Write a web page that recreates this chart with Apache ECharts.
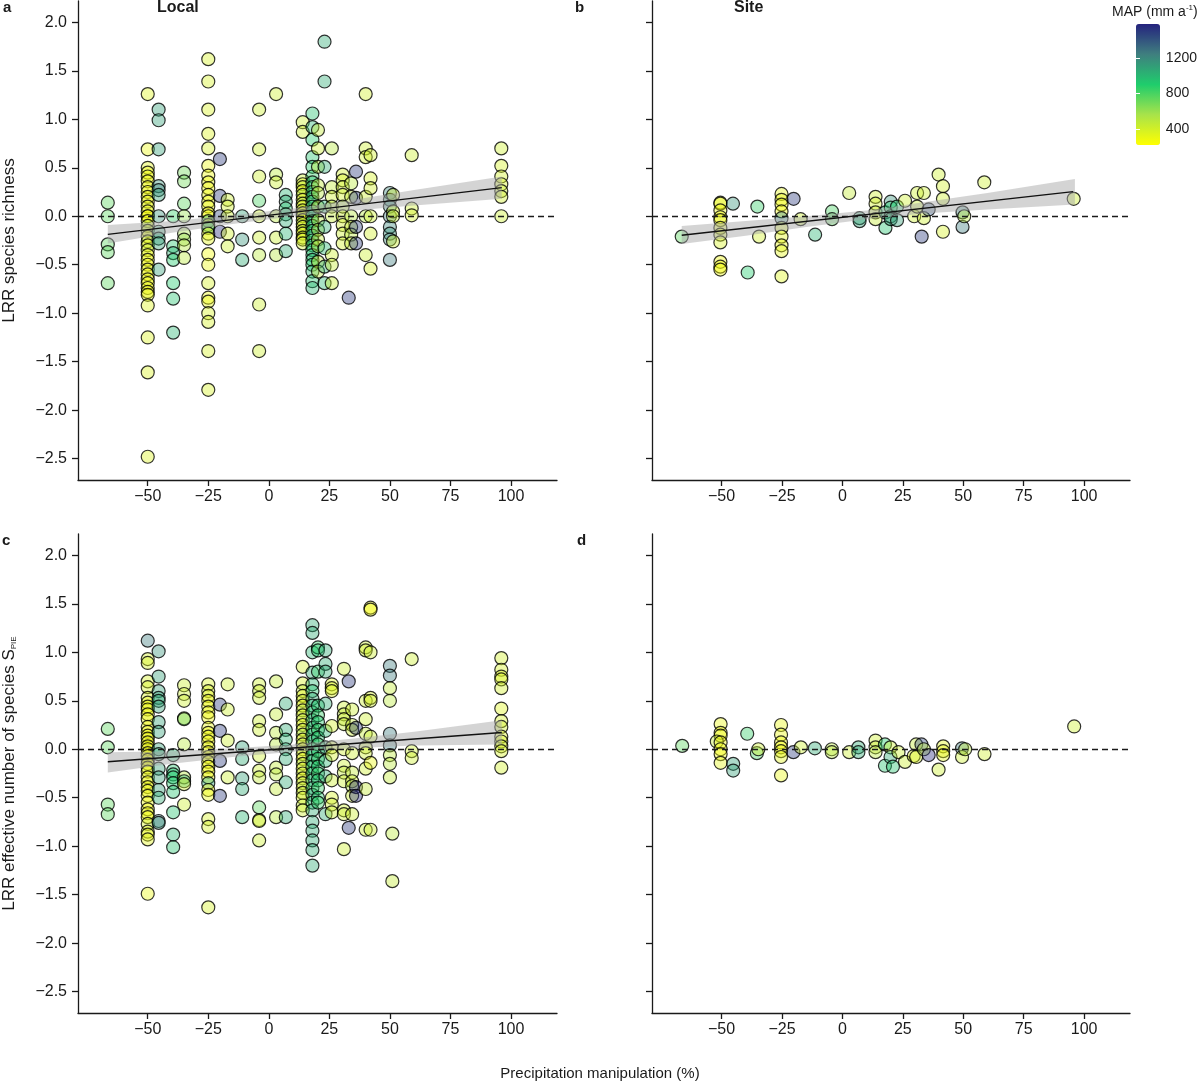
<!DOCTYPE html>
<html>
<head>
<meta charset="utf-8">
<script src="https://cdn.jsdelivr.net/npm/echarts@6/dist/echarts.min.js"></script>
<style>
  html, body { margin: 0; padding: 0; background: #fff; }
  #chart { width: 1200px; height: 1085px; }
</style>
</head>
<body>
<div id="chart"></div>
<script>
// [precipitation manipulation %, LRR, MAP mm/a]
var richLocal = [
  [-66.5,0.14,750],[-66.5,0.0,750],[-66.5,-0.29,750],[-66.5,-0.37,750],[-66.5,-0.69,750],
  [-50,1.26,350],[-50,0.69,300],[-50,0.5,330],[-50,0.45,280],[-50,0.41,300],[-50,0.36,260],[-50,0.3,300],[-50,0.25,270],
  [-50,0.2,300],[-50,0.15,280],[-50,0.1,320],[-50,0.05,300],[-50,0.0,250],[-50,0.0,260],[-50,-0.05,300],[-50,-0.1,480],
  [-50,-0.15,420],[-50,-0.21,300],[-50,-0.26,450],[-50,-0.3,300],[-50,-0.35,420],[-50,-0.4,280],[-50,-0.45,300],
  [-50,-0.5,270],[-50,-0.55,300],[-50,-0.6,260],[-50,-0.65,300],[-50,-0.69,280],[-50,-0.74,300],[-50,-0.78,270],
  [-50,-0.81,330],[-50,-0.92,350],[-50,-1.25,360],[-50,-1.61,370],[-50,-2.48,360],
  [-45.5,1.1,1100],[-45.5,0.99,1100],[-45.5,0.69,1100],[-45.5,0.31,1150],[-45.5,0.27,1200],[-45.5,0.22,1100],
  [-45.5,0.0,1150],[-45.5,-0.16,1100],[-45.5,-0.23,1100],[-45.5,-0.28,1100],[-45.5,-0.55,1100],
  [-39.5,0.0,850],[-39.5,-0.31,950],[-39.5,-0.38,1000],[-39.5,-0.45,900],[-39.5,-0.69,900],[-39.5,-0.85,950],[-39.5,-1.2,1000],
  [-35,0.45,700],[-35,0.36,700],[-35,0.13,750],[-35,0.0,600],[-35,-0.18,550],[-35,-0.24,600],[-35,-0.3,500],[-35,-0.43,480],
  [-25,1.62,380],[-25,1.39,380],[-25,1.1,370],[-25,0.85,360],[-25,0.7,380],[-25,0.52,300],[-25,0.42,280],[-25,0.35,300],
  [-25,0.29,270],[-25,0.22,300],[-25,0.15,280],[-25,0.1,300],[-25,0.03,250],[-25,0.0,260],[-25,-0.05,1000],[-25,-0.09,300],
  [-25,-0.12,950],[-25,-0.18,300],[-25,-0.23,320],[-25,-0.39,260],[-25,-0.5,300],[-25,-0.69,380],[-25,-0.84,280],
  [-25,-0.88,300],[-25,-1.0,380],[-25,-1.09,380],[-25,-1.39,380],[-25,-1.79,380],
  [-20.2,0.59,1500],[-20.2,0.21,1500],[-20.2,0.0,1450],[-20.2,-0.16,1550],
  [-17,0.17,420],[-17,0.1,400],[-17,0.0,420],[-17,-0.18,400],[-17,-0.31,420],
  [-11,0.0,1100],[-11,-0.24,1150],[-11,-0.45,1050],
  [-4,1.1,420],[-4,0.69,420],[-4,0.41,420],[-4,0.16,800],[-4,0.0,420],[-4,-0.22,420],[-4,-0.4,480],[-4,-0.91,420],[-4,-1.39,420],
  [3,1.26,420],[3,0.43,480],[3,0.35,420],[3,0.0,480],[3,-0.22,430],[3,-0.4,500],
  [7,0.22,1000],[7,0.15,1050],[7,0.08,950],[7,0.02,1000],[7,-0.05,1050],[7,-0.18,1000],[7,-0.36,1050],
  [14,0.97,420],[14,0.87,420],[14,0.37,420],[14,0.33,330],[14,0.3,450],[14,0.26,300],[14,0.22,500],[14,0.17,300],
  [14,0.13,480],[14,0.1,320],[14,0.06,400],[14,0.03,300],[14,0.0,420],[14,-0.04,300],[14,-0.08,500],[14,-0.11,330],
  [14,-0.15,450],[14,-0.18,300],[14,-0.22,420],[14,-0.24,320],[14,-0.28,400],
  [18,1.06,950],[18,0.92,1000],[18,0.79,900],[18,0.61,950],[18,0.51,900],[18,0.41,850],[18,0.35,950],[18,0.3,880],
  [18,0.25,1000],[18,0.2,900],[18,0.15,850],[18,0.1,950],[18,0.05,900],[18,0.0,1000],[18,-0.05,880],[18,-0.1,950],
  [18,-0.15,900],[18,-0.2,1000],[18,-0.25,850],[18,-0.3,950],[18,-0.35,900],[18,-0.4,1000],[18,-0.45,950],
  [18,-0.5,900],[18,-0.57,1000],[18,-0.67,950],[18,-0.74,1000],
  [20.3,0.89,450],[20.3,0.7,420],[20.3,0.51,480],[20.3,0.32,450],[20.3,0.24,500],[20.3,0.1,450],[20.3,-0.04,480],
  [20.3,-0.14,500],[20.3,-0.24,450],[20.3,-0.31,480],[20.3,-0.47,450],[20.3,-0.57,500],
  [23,1.8,1050],[23,1.39,1050],[23,0.51,1050],[23,0.1,1000],[23,-0.11,1050],[23,-0.33,1000],[23,-0.52,1050],[23,-0.69,1000],
  [26,0.7,500],[26,0.3,450],[26,0.2,420],[26,0.1,480],[26,0.0,450],[26,-0.4,420],[26,-0.5,450],[26,-0.69,430],
  [30.5,0.43,400],[30.5,0.37,380],[30.5,0.3,420],[30.5,0.22,400],[30.5,0.1,480],[30.5,0.0,420],[30.5,-0.09,400],
  [30.5,-0.18,420],[30.5,-0.28,400],
  [33,-0.84,1500],
  [34,0.34,480],[34,0.2,450],[34,0.0,500],[34,-0.11,450],[34,-0.19,480],[34,-0.28,450],
  [36,0.46,1500],[36,0.19,1500],[36,-0.11,1480],[36,-0.28,1500],
  [40,1.26,400],[40,0.7,420],[40,0.61,400],[40,0.2,420],[40,0.0,500],[40,-0.4,420],
  [42,0.63,400],[42,0.39,380],[42,0.29,400],[42,0.0,420],[42,-0.18,400],[42,-0.54,380],
  [50,0.24,1200],[50,0.17,1150],[50,0.1,1200],[50,0.0,1250],[50,-0.11,1200],[50,-0.18,1150],[50,-0.24,1200],[50,-0.45,1250],
  [51.3,0.22,420],[51.3,0.05,420],[51.3,0.0,450],[51.3,-0.26,420],
  [59,0.63,420],[59,0.08,420],[59,0.01,400],
  [96,0.7,420],[96,0.52,380],[96,0.41,400],[96,0.33,380],[96,0.26,420],[96,0.2,400],[96,0.0,420]
]

var richSite = [
  [-66.5,-0.21,750],
  [-50.5,0.14,330],[-50.5,0.13,300],[-50.5,0.06,280],[-50.5,-0.01,270],[-50.5,-0.04,300],[-50.5,-0.12,330],
  [-50.5,-0.19,370],[-50.5,-0.27,380],[-50.5,-0.47,270],[-50.5,-0.52,260],[-50.5,-0.55,270],
  [-45.3,0.13,1150],[-39.2,-0.58,900],[-35.2,0.1,850],[-34.5,-0.21,400],
  [-25.2,0.23,330],[-25.2,0.17,300],[-25.2,0.12,280],[-25.2,0.05,270],[-25.2,-0.02,1200],[-25.2,-0.12,380],
  [-25.2,-0.21,330],[-25.2,-0.3,300],[-25.2,-0.36,330],[-25.2,-0.62,350],
  [-20.2,0.18,1500],[-17.3,-0.03,420],[-11.3,-0.19,1000],[-4.3,0.05,800],[-4.3,-0.03,750],[2.8,0.24,450],
  [7.1,-0.02,1050],[7.1,-0.05,1100],
  [13.7,0.2,420],[13.7,0.13,400],[13.7,0.04,420],[13.7,-0.03,450],
  [17.8,0.04,900],[17.8,-0.12,950],
  [20,0.15,1150],[20,0.09,900],[20,0.0,1000],[20,-0.03,1100],
  [22.6,0.1,900],[22.6,-0.04,1100],
  [25.9,0.16,420],[29.7,0.0,420],[30.9,0.24,420],[30.9,0.1,450],[33.7,0.24,420],[33.7,-0.02,420],
  [35.7,0.07,1400],[32.8,-0.21,1500],
  [39.8,0.43,420],[41.6,0.31,400],[41.6,0.18,420],[41.6,-0.16,380],
  [49.7,0.04,1200],[49.7,-0.11,1250],[50.4,0.0,500],[58.7,0.35,420],[95.7,0.18,420]
]

var spieLocal = [
  [-66.5,0.21,750],[-66.5,0.02,750],[-66.5,-0.57,750],[-66.5,-0.67,750],
  [-50,1.12,1250],[-50,0.93,380],[-50,0.89,380],[-50,0.7,380],[-50,0.64,380],[-50,0.53,350],[-50,0.48,300],
  [-50,0.44,280],[-50,0.41,300],[-50,0.36,280],[-50,0.31,300],[-50,0.23,270],[-50,0.18,260],[-50,0.14,300],
  [-50,0.11,280],[-50,0.07,300],[-50,0.03,270],[-50,0.0,300],[-50,-0.04,280],[-50,-0.07,300],[-50,-0.11,270],
  [-50,-0.15,300],[-50,-0.19,280],[-50,-0.23,330],[-50,-0.29,300],[-50,-0.34,280],[-50,-0.39,300],[-50,-0.43,270],
  [-50,-0.48,300],[-50,-0.55,280],[-50,-0.62,260],[-50,-0.66,300],[-50,-0.7,280],[-50,-0.77,380],[-50,-0.85,350],
  [-50,-0.88,330],[-50,-0.93,330],[-50,-1.49,300],
  [-45.5,1.01,1150],[-45.5,0.75,1100],[-45.5,0.6,1100],[-45.5,0.53,1100],[-45.5,0.5,1050],[-45.5,0.44,1100],
  [-45.5,0.28,1100],[-45.5,0.18,1100],[-45.5,0.0,1100],[-45.5,-0.05,1050],[-45.5,-0.2,1100],[-45.5,-0.29,1100],
  [-45.5,-0.42,1100],[-45.5,-0.5,1050],[-45.5,-0.74,1250],[-45.5,-0.76,1150],
  [-39.5,-0.06,1000],[-39.5,-0.22,950],[-39.5,-0.26,900],[-39.5,-0.29,950],[-39.5,-0.35,900],[-39.5,-0.44,950],
  [-39.5,-0.65,950],[-39.5,-0.88,1000],[-39.5,-1.01,950],
  [-35,0.66,420],[-35,0.57,420],[-35,0.5,420],[-35,0.32,450],[-35,0.31,700],[-35,0.05,480],[-35,-0.29,500],
  [-35,-0.33,1000],[-35,-0.36,420],[-35,-0.57,420],
  [-25,0.67,380],[-25,0.6,380],[-25,0.55,330],[-25,0.5,300],[-25,0.44,280],[-25,0.38,300],[-25,0.33,270],[-25,0.22,300],
  [-25,0.17,280],[-25,0.13,300],[-25,0.08,260],[-25,0.02,300],[-25,-0.03,280],[-25,-0.08,330],[-25,-0.13,300],
  [-25,-0.18,280],[-25,-0.23,260],[-25,-0.29,300],[-25,-0.35,1050],[-25,-0.42,280],[-25,-0.47,300],[-25,-0.72,380],
  [-25,-0.8,380],[-25,-1.63,380],
  [-20.2,0.46,1500],[-20.2,0.19,1500],[-20.2,-0.12,1500],[-20.2,-0.48,1500],
  [-17,0.67,420],[-17,0.41,420],[-17,0.09,420],[-17,-0.29,420],
  [-11,0.02,1100],[-11,-0.1,1050],[-11,-0.3,1100],[-11,-0.41,1050],[-11,-0.7,1000],
  [-4,0.67,420],[-4,0.6,420],[-4,0.53,420],[-4,0.29,420],[-4,0.2,420],[-4,-0.07,420],[-4,-0.22,420],[-4,-0.29,450],
  [-4,-0.6,750],[-4,-0.73,420],[-4,-0.74,420],[-4,-0.94,420],
  [3,0.7,450],[3,0.36,450],[3,0.17,480],[3,0.05,500],[3,-0.19,450],[3,-0.26,480],[3,-0.41,450],[3,-0.7,480],
  [7,0.47,1050],[7,0.2,1050],[7,0.1,1000],[7,0.0,1050],[7,-0.1,1050],[7,-0.34,1050],[7,-0.7,1050],
  [14,0.85,400],[14,0.68,380],[14,0.6,450],[14,0.55,300],[14,0.5,420],[14,0.45,300],[14,0.4,480],[14,0.35,320],
  [14,0.3,450],[14,0.25,300],[14,0.2,420],[14,0.15,500],[14,0.1,300],[14,0.05,450],[14,0.0,320],[14,-0.05,420],
  [14,-0.1,300],[14,-0.15,480],[14,-0.2,320],[14,-0.25,420],[14,-0.3,300],[14,-0.35,450],[14,-0.4,400],
  [14,-0.45,420],[14,-0.5,380],[14,-0.58,420],[14,-0.63,420],
  [18,1.28,1050],[18,1.2,1050],[18,1.0,1000],[18,0.79,1050],[18,0.67,1000],[18,0.6,950],[18,0.52,1050],[18,0.45,1000],
  [18,0.38,950],[18,0.3,1000],[18,0.22,900],[18,0.15,950],[18,0.08,1000],[18,0.0,900],[18,-0.06,950],[18,-0.12,1000],
  [18,-0.18,900],[18,-0.25,950],[18,-0.32,1000],[18,-0.4,950],[18,-0.47,1000],[18,-0.55,950],[18,-0.63,1050],
  [18,-0.75,1050],[18,-0.84,1050],[18,-0.94,1050],[18,-1.04,1050],[18,-1.2,1050],
  [20.3,1.05,850],[20.3,1.02,900],[20.3,0.8,850],[20.3,0.45,900],[20.3,0.35,850],[20.3,0.28,900],[20.3,0.2,850],
  [20.3,0.12,900],[20.3,0.05,850],[20.3,-0.02,900],[20.3,-0.1,850],[20.3,-0.18,900],[20.3,-0.25,850],[20.3,-0.32,900],
  [20.3,-0.4,850],[20.3,-0.5,900],[20.3,-0.55,850],
  [23.4,1.02,1050],[23.4,0.88,1050],[23.4,0.8,1050],[23.4,0.47,1050],[23.4,0.19,1000],[23.4,0.02,1050],
  [23.4,-0.12,1000],[23.4,-0.28,1050],[23.4,-0.67,1050],
  [26,0.67,350],[26,0.63,380],[26,0.6,350],[26,0.24,400],[26,0.02,380],[26,-0.06,400],[26,-0.32,420],[26,-0.5,380],
  [26,-0.57,400],[26,-0.65,420],
  [31,0.83,420],[31,0.43,420],[31,0.36,450],[31,0.31,420],[31,0.26,450],[31,0.0,420],[31,-0.17,420],[31,-0.24,450],
  [31,-0.33,420],[31,-0.63,420],[31,-0.67,420],[31,-1.03,420],
  [33,0.7,1500],[33,-0.81,1500],
  [34.4,0.41,420],[34.4,0.25,450],[34.4,0.2,420],[34.4,-0.04,420],[34.4,-0.24,450],[34.4,-0.33,420],[34.4,-0.38,480],
  [34.4,-0.48,420],[34.4,-0.67,420],
  [36,0.22,1500],[36,-0.39,1580],[36,-0.48,1550],
  [40,1.05,420],[40,1.02,400],[40,0.5,420],[40,0.31,420],[40,0.16,450],[40,0.02,420],[40,-0.04,420],[40,-0.2,420],
  [40,-0.41,450],[40,-0.83,420],
  [42,1.46,260],[42,1.44,270],[42,1.0,420],[42,0.53,380],[42,0.5,400],[42,0.13,420],[42,-0.14,300],[42,-0.83,420],
  [50,0.86,1250],[50,0.76,1250],[50,0.63,450],[50,0.5,480],[50,0.16,1250],[50,0.04,1250],[50,-0.06,480],
  [50,-0.15,480],[50,-0.29,450],
  [51,-0.87,480],[51,-1.36,450],
  [59,0.93,420],[59,-0.02,420],[59,-0.09,420],
  [96,0.94,400],[96,0.82,380],[96,0.75,350],[96,0.72,380],[96,0.63,400],[96,0.42,350],[96,0.29,380],[96,0.23,400],
  [96,0.13,350],[96,0.08,380],[96,0.03,400],[96,-0.02,380],[96,-0.19,400]
]

var spieSite = [
  [-66.3,0.035,750],
  [-50.4,0.26,300],[-50.4,0.17,280],[-50.4,0.14,300],[-52,0.08,450],[-50.4,0.07,270],[-50.4,0.0,280],
  [-50.4,-0.05,260],[-50.4,-0.14,330],
  [-45.2,-0.15,1100],[-45.2,-0.22,1100],[-39.4,0.16,850],[-35.4,-0.04,800],[-34.8,0.0,420],
  [-25.4,0.25,300],[-25.4,0.15,300],[-25.4,0.07,280],[-25.4,0.02,260],[-25.4,-0.02,300],[-25.4,-0.08,330],[-25.4,-0.27,300],
  [-20.3,-0.03,1500],[-17.2,0.02,420],[-11.4,0.01,1050],[-4.4,0.0,480],[-4.4,-0.03,480],[2.8,-0.03,420],
  [6.6,0.02,1050],[6.6,-0.03,1050],
  [13.7,0.09,420],[13.7,0.02,450],[13.7,-0.03,480],
  [17.6,0.05,900],[17.6,-0.17,950],[19.9,0.02,420],[19.9,-0.08,1050],[20.9,-0.18,950],
  [23.2,-0.03,420],[25.9,-0.13,420],[29.5,-0.07,330],[30.5,0.05,450],[30.5,-0.08,380],
  [32.7,0.05,1450],[33.7,0.0,500],[35.7,-0.06,1550],[39.8,-0.21,420],
  [41.7,0.03,330],[41.7,-0.02,300],[41.7,-0.06,330],
  [49.5,0.01,1250],[49.5,-0.08,420],[50.8,0.0,480],[58.8,-0.05,420],[95.9,0.235,420]
]

// fitted lines and confidence bands
var fitX = [-66.5, -40, -15, 10, 35, 60, 96.2]
var richLocalLow = [-0.28, -0.17, -0.08, 0.0, 0.06, 0.11, 0.18]
var richLocalHigh = [-0.09, -0.05, 0.01, 0.08, 0.17, 0.27, 0.41]
var richLocalLine = [[-66.5, -0.186], [96.2, 0.295]]
var richSiteLow = [-0.285, -0.2, -0.11, -0.03, 0.03, 0.07, 0.12]
var richSiteHigh = [-0.1, -0.05, 0.0, 0.06, 0.15, 0.24, 0.385]
var richSiteLine = [[-66.5, -0.196], [95.5, 0.254]]
var spieLocalLow = [-0.24, -0.15, -0.08, -0.025, 0.01, 0.04, 0.05]
var spieLocalHigh = [-0.03, -0.02, 0.01, 0.05, 0.11, 0.18, 0.3]
var spieLocalLine = [[-66.5, -0.129], [96.2, 0.173]]

var xTicks = [-50, -25, 0, 25, 50, 75, 100]
var yTicks = [-2.5, -2.0, -1.5, -1.0, -0.5, 0.0, 0.5, 1.0, 1.5, 2.0]
var mapTicks = [400, 800, 1200]
var mapColors = ['#ffff00', '#a8e34a', '#1fcd6c', '#3f7f7f', '#25237e']

var FONT = '"Liberation Sans", Arial, sans-serif'
var INK = '#1a1a1a'

function minus(v, digits) {
  var s = digits ? Math.abs(v).toFixed(digits) : String(Math.abs(v))
  return v < 0 ? '\u2212' + s : s
}

var grids = [
  { left: 77, top: 1, width: 480, height: 479 },
  { left: 652, top: 1, width: 478, height: 479 },
  { left: 77, top: 534, width: 480, height: 479 },
  { left: 652, top: 534, width: 478, height: 479 },
  { left: 1136, top: 24, width: 24, height: 121 }
]

var xAxes = []
var yAxes = []
for (var i = 0; i < 4; i++) {
  xAxes.push({
    type: 'value', gridIndex: i, min: -78.8, max: 119,
    splitLine: { show: false },
    axisLine: { show: true, onZero: false, lineStyle: { color: INK, width: 1.3 } },
    axisTick: { show: true, length: 6, customValues: xTicks, lineStyle: { color: INK, width: 1.3 } },
    axisLabel: {
      customValues: xTicks, fontFamily: FONT, fontSize: 16, color: INK, margin: 9,
      formatter: function (v) { return minus(v) }
    }
  })
  yAxes.push({
    type: 'value', gridIndex: i, min: -2.72, max: 2.22,
    splitLine: { show: false },
    axisLine: { show: true, onZero: false, lineStyle: { color: INK, width: 1.3 } },
    axisTick: { show: true, length: 6, customValues: yTicks, lineStyle: { color: INK, width: 1.3 } },
    axisLabel: {
      show: i % 2 === 0, customValues: yTicks, fontFamily: FONT, fontSize: 16, color: INK, margin: 11,
      formatter: function (v) { return minus(v, 1) }
    },
    nameLocation: 'middle', nameGap: 60,
    nameTextStyle: { fontFamily: FONT, fontSize: 17, color: INK,
      rich: { sub: { fontFamily: FONT, fontSize: 8, color: INK, padding: [8, 0, 0, 0] } } }
  })
}
yAxes[0].name = 'LRR species richness'
yAxes[2].name = 'LRR effective number of species S{sub|PIE}'

// colour bar ticks
xAxes.push({ type: 'value', gridIndex: 4, show: false, min: 0, max: 1 })
yAxes.push({
  type: 'value', gridIndex: 4, position: 'right', min: 220, max: 1580, z: 10,
  splitLine: { show: false }, axisLine: { show: false },
  axisTick: { show: true, inside: true, length: 4, customValues: mapTicks, lineStyle: { color: '#fff', width: 1 } },
  axisLabel: { customValues: mapTicks, fontFamily: FONT, fontSize: 14, color: INK, margin: 8,
    formatter: function (v) { return String(v) } }
})
yAxes.push({
  type: 'value', gridIndex: 4, position: 'left', min: 220, max: 1580, z: 10,
  splitLine: { show: false }, axisLine: { show: false }, axisLabel: { show: false },
  axisTick: { show: true, inside: true, length: 4, customValues: mapTicks, lineStyle: { color: '#fff', width: 1 } }
})

var panels = [
  { data: richLocal, low: richLocalLow, high: richLocalHigh, line: richLocalLine },
  { data: richSite, low: richSiteLow, high: richSiteHigh, line: richSiteLine },
  { data: spieLocal, low: spieLocalLow, high: spieLocalHigh, line: spieLocalLine },
  { data: spieSite }
]

function bandRenderer(low, high) {
  return function (params, api) {
    var pts = []
    for (var k = 0; k < fitX.length; k++) pts.push(api.coord([fitX[k], high[k]]))
    for (var k2 = fitX.length - 1; k2 >= 0; k2--) pts.push(api.coord([fitX[k2], low[k2]]))
    return { type: 'polygon', shape: { points: pts }, style: { fill: 'rgba(165,165,165,0.48)' } }
  }
}

var series = []
var scatterIdx = []
panels.forEach(function (p, i) {
  series.push({
    type: 'line', xAxisIndex: i, yAxisIndex: i, data: [], z: 1, silent: true,
    markLine: {
      silent: true, symbol: 'none', label: { show: false },
      lineStyle: { color: INK, type: [6, 4], width: 1.3 },
      data: [{ yAxis: 0 }]
    }
  })
  scatterIdx.push(series.length)
  series.push({
    type: 'scatter', xAxisIndex: i, yAxisIndex: i, data: p.data, z: 2,
    symbolSize: 13,
    itemStyle: { borderColor: '#000', borderWidth: 1.2 }
  })
  if (p.line) {
    series.push({
      type: 'custom', xAxisIndex: i, yAxisIndex: i, z: 3, silent: true,
      data: [[fitX[0], p.low[0]]],
      renderItem: bandRenderer(p.low, p.high)
    })
    series.push({
      type: 'line', xAxisIndex: i, yAxisIndex: i, z: 4, silent: true,
      data: p.line, symbol: 'none',
      lineStyle: { color: '#111', width: 1.3 }
    })
  }
})

function label(text, left, top, size, bold) {
  return {
    type: 'text', left: left, top: top,
    style: { text: text, fontFamily: FONT, fontSize: size, fontWeight: bold ? 'bold' : 'normal', fill: INK }
  }
}

var option = {
  animation: false,
  grid: grids,
  xAxis: xAxes,
  yAxis: yAxes,
  visualMap: {
    type: 'continuous', min: 220, max: 1580, dimension: 2,
    seriesIndex: scatterIdx,
    left: 1136, top: 24, itemWidth: 24, itemHeight: 121, padding: 0,
    calculable: false, hoverLink: false,
    inRange: { color: mapColors.map(function (c) { return echarts.color.modifyAlpha(c, 0.5) }) },
    controller: { inRange: { color: mapColors } }
  },
  graphic: [
    label('a', 3, 0, 15, true),
    label('b', 575, 0, 15, true),
    label('c', 2, 533, 15, true),
    label('d', 577, 533, 15, true),
    label('Local', 157, 0, 16, true),
    label('Site', 734, 0, 16, true),
    {
      type: 'text', left: 1112, top: 4,
      style: {
        text: 'MAP (mm a{sup|-1})', fontFamily: FONT, fontSize: 14, fill: INK,
        rich: { sup: { fontFamily: FONT, fontSize: 8, fill: INK, padding: [0, 0, 8, 0] } }
      }
    },
    {
      type: 'text', left: 'center', top: 1066,
      style: { text: 'Precipitation manipulation (%)', fontFamily: FONT, fontSize: 15, fill: INK }
    }
  ],
  series: series
}

var chart = echarts.init(document.getElementById('chart'))
chart.setOption(option)
</script>
</body>
</html>
